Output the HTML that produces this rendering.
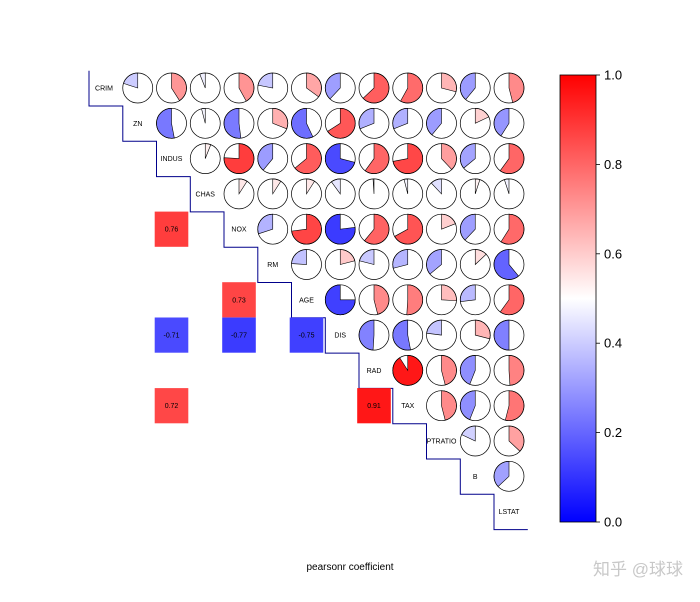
<!DOCTYPE html>
<html><head><meta charset="utf-8"><style>
body{margin:0;background:#fff;width:700px;height:597px;overflow:hidden;font-family:"Liberation Sans","DejaVu Sans",sans-serif}
</style></head><body>
<svg id="chart" width="700" height="597" xmlns="http://www.w3.org/2000/svg">
<defs><linearGradient id="bwr" x1="0" y1="1" x2="0" y2="0">
<stop offset="0" stop-color="#0000ff"/><stop offset="0.5" stop-color="#ffffff"/><stop offset="1" stop-color="#ff0000"/></linearGradient></defs>
<g id="cells"></g>
<g>
<rect x="560" y="75" width="36" height="447" fill="url(#bwr)" stroke="#000" stroke-width="0.8"/>
<g id="cbticks"></g></g>
<text x="350" y="570" font-size="10" text-anchor="middle">pearsonr coefficient</text>
<text x="683" y="575" font-size="17" fill="#c8c8c8" text-anchor="end" font-family="'Liberation Sans','Noto Sans CJK SC',sans-serif">知乎 @球球</text>
</svg>
<script>
const vars=["CRIM","ZN","INDUS","CHAS","NOX","RM","AGE","DIS","RAD","TAX","PTRATIO","B","LSTAT"];
const corrRows=[
[-0.20,0.41,-0.06,0.42,-0.22,0.35,-0.38,0.63,0.58,0.29,-0.39,0.46],
[-0.53,-0.04,-0.52,0.31,-0.57,0.66,-0.31,-0.31,-0.39,0.18,-0.41],
[0.06,0.76,-0.39,0.64,-0.71,0.60,0.72,0.38,-0.36,0.60],
[0.09,0.09,0.09,-0.10,-0.01,-0.04,-0.12,0.05,-0.05],
[-0.30,0.73,-0.77,0.61,0.67,0.19,-0.38,0.59],
[-0.24,0.21,-0.21,-0.29,-0.36,0.13,-0.61],
[-0.75,0.46,0.51,0.26,-0.27,0.60],
[-0.49,-0.53,-0.23,0.29,-0.50],
[0.91,0.46,-0.44,0.49],
[0.46,-0.44,0.54],
[-0.18,0.37],
[-0.37]];
const threshold=0.7;
const cbTicks=[0.0,0.2,0.4,0.6,0.8,1.0];
const NS="http://www.w3.org/2000/svg";
const cx=j=>104+33.75*j, cy=i=>88+35.3*i;
const cbY=v=>522-447*v;
function col(v){v=Math.max(0,Math.min(1,v));let r,g,b;
 if(v<0.5){r=g=Math.round(255*v*2);b=255}else{r=255;g=b=Math.round(255*(1-v)*2)}
 return `rgb(${r},${g},${b})`}
function mk(tag,attrs,parent){const e=document.createElementNS(NS,tag);for(const k in attrs)e.setAttribute(k,attrs[k]);parent.appendChild(e);return e}
const G=document.getElementById('cells');
// staircase
let d="M89,"+(106-35.3).toFixed(1);
for(let i=0;i<vars.length;i++){const x=89+33.75*i,y=106+35.3*i;d+=` L${x.toFixed(1)},${y.toFixed(1)} L${(x+33.75).toFixed(1)},${y.toFixed(1)}`;}
const st=mk('path',{d:d,fill:'none',stroke:'#00008b','stroke-width':1},G);


vars.forEach((v,i)=>{
 const t=mk('text',{x:cx(i),y:cy(i)+2.5,'font-size':7,'text-anchor':'middle'},G);t.textContent=v;
 
 
});
const R=15;
corrRows.forEach((row,i)=>row.forEach((r,k)=>{
 const j=i+1+k, x=cx(j), y=cy(i), a=Math.abs(r);
 const g=mk('g',{},G);
 
 
 mk('circle',{cx:x,cy:y,r:R,fill:'#fff',stroke:'none'},g);
 if(a>0.001){
  const c=col((r+1)/2);
  if(a>=0.999){mk('circle',{cx:x,cy:y,r:R,fill:c,stroke:'#000','stroke-width':0.6},g);}
  else{const ang=2*Math.PI*a*(r>0?1:-1);
   const ex=x+R*Math.sin(ang), ey=y-R*Math.cos(ang);
   const large=a>0.5?1:0, sweep=r>0?1:0;
   mk('path',{d:`M${x},${y} L${x},${y-R} A${R},${R} 0 ${large} ${sweep} ${ex.toFixed(2)},${ey.toFixed(2)} Z`,fill:c,stroke:'#000','stroke-width':0.6},g);}
 }
 mk('circle',{cx:x,cy:y,r:R,fill:'none',stroke:'#000','stroke-width':0.7},g);
 if(a>=threshold){
  const s=mk('rect',{x:cy(0)&&cx(i)-16.8,y:cy(j)-17.6,width:33.6,height:35.2,fill:col((r+1)/2)},G);
  
  
  const t=mk('text',{x:cx(i),y:cy(j)+2.5,'font-size':7,'text-anchor':'middle'},G);t.textContent=r.toFixed(2);
  
  
 }
}));
const CT=document.getElementById('cbticks');
cbTicks.forEach(v=>{
 mk('line',{x1:596,x2:600,y1:cbY(v),y2:cbY(v),stroke:'#000','stroke-width':0.8},CT);
 const t=mk('text',{x:604,y:cbY(v)+4.5,'font-size':13},CT);t.textContent=v.toFixed(1);
 
 
});
</script>
</body></html>
